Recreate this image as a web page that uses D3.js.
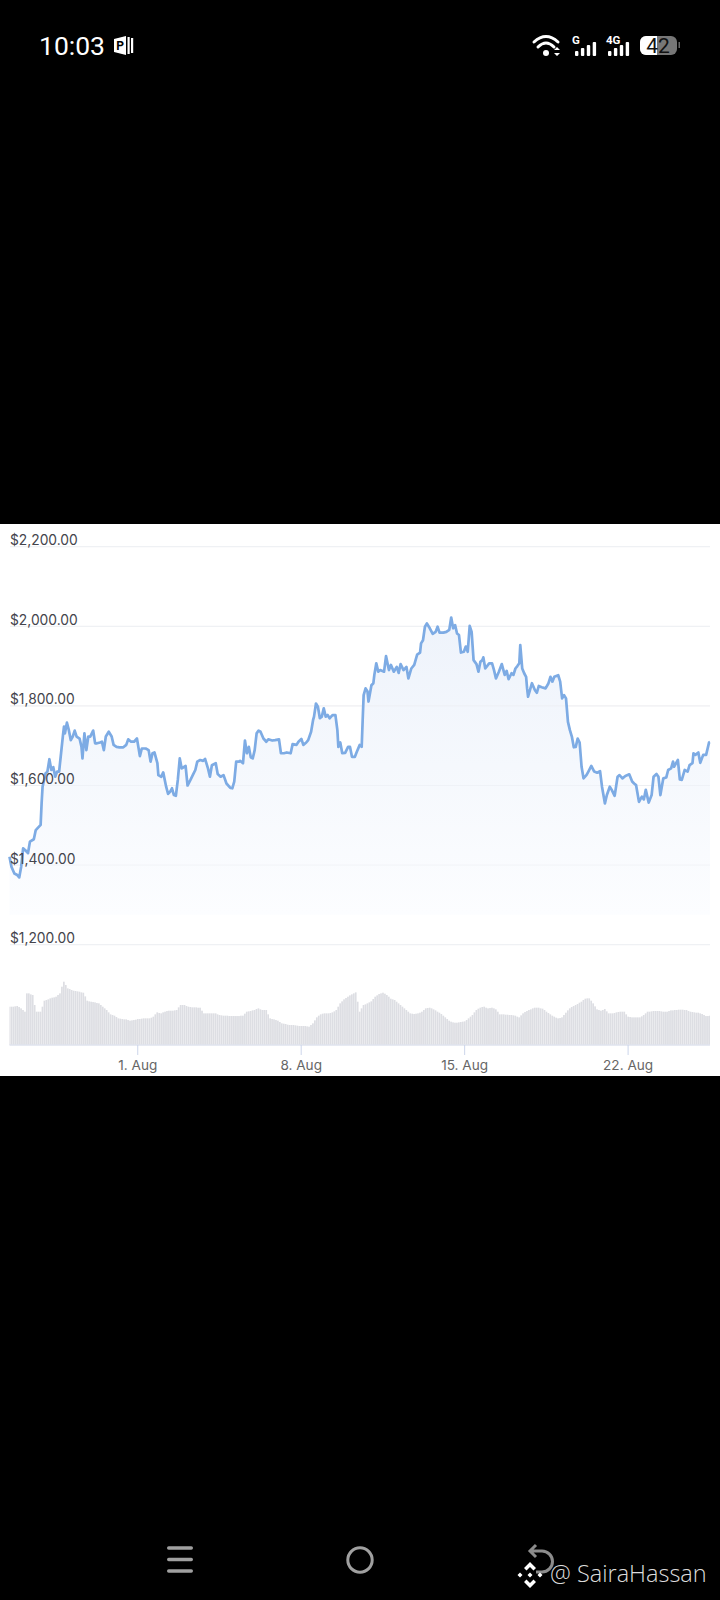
<!DOCTYPE html>
<html><head><meta charset="utf-8">
<script src="https://cdn.jsdelivr.net/npm/d3@7"></script>
<style>html,body{margin:0;padding:0;background:#000}svg{display:block}</style>
</head><body><svg id="c" width="720" height="1600"></svg>
<script>
// hours since first sample
const priceHours=[0,2,5,8,10,12,14,16,19,21,25,27,32,33,34,37,39,41,43,45,47,49,51,53,55,56,57,59,61,63,65,67,69,72,74,75,77,79,81,83,86,88,90,93,95,97,99,102,105,107,110,113,117,120,122,125,128,131,134,136,140,143,145,147,149,152,153,156,158,161,163,165,167,169,171,173,175,177,181,183,186,189,191,193,196,199,201,204,206,208,212,214,217,220,223,227,229,231,233,236,
237,240,242,244,246,248,250,252,254,256,258,261,264,266,270,273,277,279,282,285,289,291,295,297,300,302,305,307,310,312,313,315,317,319,321,323,325,327,329,332,335,337,338,340,342,345,348,350,352,355,357,360,362,363,364,366,368,369,372,374,375,377,379,381,385,387,390,392,395,398,400,402,405,408,410,413,416,419,422,423,425,427,429,432,435,438,440,442,446,449,452,454,456,458,460,462,464,467,469,471,473,475,477,480,482,484,
486,487,489,493,496,498,500,503,506,509,511,513,516,518,520,522,524,525,527,529,531,532,533,535,537,540,542,544,547,551,554,556,558,560,564,566,568,570,572,574,576,578,580,582,584,586,588,590,593,595,598,601,604,607,609,612,614,617,619,622,625,627,630,633,637,640,642,644,647,650,652,654,657,660,662,665,667,669,672,675,677,680,682,683,687,689,691,694,697,699,702,703,705,708,710,713,716,719,720];
const priceValues=[1421,1396,1379,1375,1369,1396,1442,1438,1430,1459,1465,1488,1501,1555,1597,1630,1635,1666,1639,1646,1622,1635,1635,1681,1727,1748,1731,1758,1739,1714,1723,1738,1723,1718,1697,1668,1731,1689,1723,1723,1738,1706,1706,1708,1710,1689,1723,1735,1723,1702,1697,1696,1696,1702,1716,1710,1710,1718,1674,1693,1693,1689,1660,1681,1683,1656,1626,1622,1633,1597,1579,1584,1593,1576,1574,1614,1668,1643,1649,1600,1614,1629,1639,1660,1664,1662,1667,1643,1622,1651,1656,1629,1622,1626,1605,1594,1593,1610,1660,1660,
1662,1656,1713,1681,1697,1671,1668,1689,1731,1738,1735,1718,1710,1716,1713,1714,1716,1681,1681,1683,1681,1704,1702,1710,1717,1702,1708,1714,1735,1764,1773,1806,1798,1769,1773,1794,1773,1777,1769,1777,1777,1739,1697,1708,1681,1682,1697,1697,1672,1672,1685,1702,1697,1764,1827,1844,1836,1811,1852,1857,1878,1907,1886,1890,1886,1925,1890,1903,1886,1898,1883,1905,1890,1898,1869,1894,1903,1929,1934,1957,1965,1999,2007,1995,1981,1986,1999,1984,1984,1986,1991,2022,1995,2003,1982,1978,1934,1936,1949,1936,2001,1986,1915,1905,1886,1911,
1915,1922,1894,1907,1907,1890,1869,1886,1905,1878,1888,1867,1882,1878,1894,1900,1907,1953,1894,1882,1873,1844,1823,1840,1857,1840,1833,1850,1847,1844,1857,1873,1861,1873,1877,1861,1819,1827,1819,1760,1739,1723,1696,1697,1718,1708,1647,1618,1626,1635,1649,1635,1632,1636,1597,1555,1576,1597,1589,1574,1622,1626,1618,1624,1628,1610,1605,1601,1559,1572,1565,1589,1557,1576,1622,1629,1622,1576,1618,1620,1639,1643,1660,1647,1664,1615,1614,1639,1635,1651,1656,1681,1677,1683,1657,1677,1677,1708,1709];
// volume, billions, one value every two hours
const volumeValues=[11.5,11.5,11.5,11.6,11.7,11.4,11,10.5,10,15.5,15.5,15.2,15,12,10,10,10,11.5,13.3,13.5,13.7,14,14.2,14.3,14.5,15,15.5,17.5,19,18,17,16.8,16.5,16.3,16.2,16.1,16,15.8,15.7,14.6,13.3,13.1,13,12.9,12.8,12.6,12.5,12,11.5,11,10.5,9.8,9.2,9,8.8,8.4,8,7.9,7.8,7.7,7.7,7.5,7.3,7.4,7.5,7.6,7.8,7.8,7.9,8,8,8,8,8.2,8.5,9.2,9.8,9.6,9.5,9.8,10,10.2,10.3,10.3,10.3,10.4,10.5,11.3,12,12,12,11.7,11.5,11.4,11.3,11.3,11.3,11.2,11.2,10.3,9.5,9.5,9.5,9.5,9.5,9.5,9.5,9.2,9,8.9,8.8,8.8,8.8,8.7,8.7,8.7,8.7,8.7,8.7,8.8,8.8,9.4,10,10.1,10.2,10.4,10.5,10.8,11,10.7,10.5,10.5,10.5,9.2,8,7.8,7.7,7.5,7.3,6.9,6.5,6.4,6.3,6.1,6,6,6,5.9,5.8,5.7,5.7,5.7,5.7,5.6,5.5,6,6.5,7.4,8.3,8.8,9.2,9.4,9.5,9.5,9.5,9.6,9.8,10.1,10.5,11.5,12.5,13.1,13.7,14.1,14.5,14.9,15.2,15.5,15.8,13,10,
11,12,12.2,12.5,12.8,13.1,13.8,14.5,14.9,15.3,15.5,15.7,15.4,15,14.5,13.9,13.7,13.5,13,12.5,12,11.5,11,10.5,10,9.5,9.4,9.3,9.4,9.5,9.7,10,10.5,11,11.1,11.2,11,10.7,10.4,10,9.7,9.3,8.8,8.3,7.8,7.3,7,6.8,6.7,6.7,6.8,6.9,7,7.1,7.5,8,8.5,9,9.8,10.5,10.9,11.2,11.4,11.5,11.2,11,11.1,11.2,11,10.7,10,9.2,9.2,9.2,9.1,9.1,9,9,8.9,8.8,8.5,8.3,8.9,9.5,9.9,10.2,10.5,10.7,11,11.2,11.2,11.2,11,10.9,10.5,10,9.6,9.2,8.8,8.5,8.2,8,8.1,8.3,9,9.7,10.4,11,11.4,11.7,12,12.3,12.7,13,13.5,13.9,14,14,13.3,12.5,11.6,10.7,10.5,10.3,10.5,10.8,10.1,9.5,9.5,9.5,9.6,9.8,9.9,10,10,10,9.2,8.5,8.4,8.3,8.3,8.3,8.3,8.3,8.6,9,9.5,10,10,10.1,10.2,10.2,10.2,10.2,10.1,10,10,10,10.2,10.4,10.4,10.5,10.5,10.6,10.6,10.6,10.5,10.5,10.2,10,9.9,9.8,9.7,9.7,9.5,9.3,9,8.7,8.7,8.8];
const priceTicks=[1200,1400,1600,1800,2000,2200];
const dateTicks=[new Date(Date.UTC(2022,7,1)),new Date(Date.UTC(2022,7,8)),new Date(Date.UTC(2022,7,15)),new Date(Date.UTC(2022,7,22))];
const startTime=Date.UTC(2022,6,26,12,42);
const HOUR=3600000;
const dateOf=h=>new Date(startTime+h*HOUR);

const svg=d3.select("#c");
const FONT="Inter, 'Liberation Sans', sans-serif";
svg.append("rect").attr("width",720).attr("height",1600).attr("fill","#000");
svg.append("rect").attr("x",0).attr("y",524).attr("width",720).attr("height",552).attr("fill","#fff");

const x=d3.scaleUtc().domain([dateOf(0),dateOf(720)]).range([9.5,710]);
const y=d3.scaleLinear().domain([1200,2200]).range([944.7,546.7]);
const vy=d3.scaleLinear().domain([0,19]).range([1045,981.7]);
const areaBase=1275;

const defs=svg.append("defs");
const g=defs.append("linearGradient").attr("id","fillG").attr("x1",0).attr("x2",0).attr("y1",0).attr("y2",1);
g.append("stop").attr("offset",0).attr("stop-color","#eef3fb");
g.append("stop").attr("offset",1).attr("stop-color","#fcfdff");
defs.append("clipPath").attr("id","plotClip").append("rect").attr("x",9.5).attr("y",524).attr("width",700.5).attr("height",552);
defs.append("filter").attr("id","soft").attr("x","-5%").attr("y","-5%").attr("width","110%").attr("height","110%")
 .append("feGaussianBlur").attr("stdDeviation",0.35);

// grid
svg.append("g").selectAll("line").data(priceTicks).join("line")
 .attr("x1",10).attr("x2",710).attr("y1",d=>y(d)).attr("y2",d=>y(d))
 .attr("stroke","#f2f3f5").attr("stroke-width",1);

const pts=priceHours.map((h,i)=>({t:dateOf(h),v:priceValues[i]}));
svg.append("path").datum(pts).attr("fill","url(#fillG)")
 .attr("d",d3.area().x(d=>x(d.t)).y0(y(areaBase)).y1(d=>y(d.v)));
// grid shows through the fill
svg.append("g").selectAll("line").data(priceTicks).join("line")
 .attr("x1",10).attr("x2",710).attr("y1",d=>y(d)).attr("y2",d=>y(d))
 .attr("stroke","#e6e8ee").attr("stroke-opacity",0.4).attr("stroke-width",1);
svg.append("path").datum(pts).attr("fill","none").attr("stroke","#7dabe4").attr("stroke-width",2.7)
 .attr("stroke-linejoin","round").attr("filter","url(#soft)")
 .attr("d",d3.line().x(d=>x(d.t)).y(d=>y(d.v)));

// y labels
svg.append("g").selectAll("text").data(priceTicks).join("text")
 .attr("x",10).attr("y",d=>y(d)-1.6).attr("fill","#44444c")
 .attr("font-family",FONT).attr("font-size",13.8)
 .text(d=>"$"+d3.format(",.2f")(d));

// volume
const step=x(dateOf(2))-x(dateOf(0));
svg.append("g").attr("clip-path","url(#plotClip)").selectAll("rect").data(volumeValues).join("rect")
 .attr("x",(d,i)=>x(dateOf(i*2))-step/2)
 .attr("width",step-0.25)
 .attr("y",d=>vy(d)).attr("height",d=>vy(0)-vy(d))
 .attr("fill","#dddee3");

// x axis
const ax=svg.append("g").attr("transform","translate(0,1045)")
 .call(d3.axisBottom(x).tickValues(dateTicks).tickSize(10).tickPadding(5).tickFormat(d3.utcFormat("%-d. %b")));
ax.select(".domain").attr("stroke","#dfe3ee").attr("stroke-width",1.5).attr("d","M9.5,0H710");
ax.selectAll(".tick line").attr("stroke","#ccd6eb");
ax.selectAll(".tick text").attr("fill","#666").attr("font-family",FONT).attr("font-size",13.6);

// status bar
svg.append("text").attr("x",39).attr("y",55).attr("fill","#fff").attr("font-family","Roboto").attr("font-size",26.5).text("10:03");
const P=svg.append("g").attr("fill","#fff");
P.append("path").attr("d","M114 39 L126 36 V55 L114 52 Z");
P.append("rect").attr("x",127.5).attr("y",37).attr("width",2.2).attr("height",17);
P.append("rect").attr("x",131).attr("y",38).attr("width",2.2).attr("height",15);
svg.append("text").attr("x",120).attr("y",50).attr("text-anchor","middle").attr("fill","#000").attr("font-family","Roboto").attr("font-weight",700).attr("font-size",12).text("P");
// wifi
const wifi=svg.append("g").attr("fill","none").attr("stroke","#fff").attr("stroke-width",3).attr("stroke-linecap","round");
wifi.append("path").attr("d","M534 42 Q546 31 558 42");
wifi.append("path").attr("d","M538 47 Q546 39 554 47");
svg.append("circle").attr("cx",546).attr("cy",53).attr("r",3).attr("fill","#fff");
svg.append("path").attr("d","M554 50 L557 47 L560 50 Z M554 53 L557 56 L560 53 Z").attr("fill","#fff");
// signal
const sig=(x0,hs)=>hs.forEach((h,i)=>svg.append("rect").attr("x",x0+i*5.9).attr("y",56-h).attr("width",3.4).attr("height",h).attr("rx",1).attr("fill","#fff"));
sig(575,[5,8,11,14]); sig(608,[5,8,11,14]);
svg.append("text").attr("x",572).attr("y",44).attr("fill","#fff").attr("font-family","Roboto").attr("font-weight",700).attr("font-size",11.5).text("G");
svg.append("text").attr("x",606).attr("y",44).attr("fill","#fff").attr("font-family","Roboto").attr("font-weight",700).attr("font-size",11.5).text("4G");
// battery
svg.append("rect").attr("x",640).attr("y",36).attr("width",37).attr("height",19).attr("rx",6).attr("fill","#777");
svg.append("path").attr("d","M646 36 H657 V55 H646 A6 6 0 0 1 640 49 V42 A6 6 0 0 1 646 36 Z").attr("fill","#fff");
svg.append("rect").attr("x",678.5).attr("y",42).attr("width",1.5).attr("height",6).attr("fill","#666");
svg.append("text").attr("x",658).attr("y",53).attr("text-anchor","middle").attr("fill","#111").attr("font-family","Roboto").attr("font-size",21).text("42");

// nav bar
[1548,1559.5,1571].forEach(yy=>svg.append("rect").attr("x",167).attr("y",yy-1.7).attr("width",26).attr("height",3.4).attr("rx",1.7).attr("fill","#a0a0a0"));
svg.append("circle").attr("cx",360).attr("cy",1560).attr("r",12.2).attr("fill","none").attr("stroke","#a0a0a0").attr("stroke-width",3);
svg.append("path").attr("d","M531 1551 H542 A9.5 9.5 0 0 1 542 1572 H536 M536 1545 L530 1551 L536 1557").attr("fill","none").attr("stroke","#8c8c8c").attr("stroke-width",3);
// watermark
const wm=svg.append("g").attr("fill","#fff").attr("transform","translate(530,1575)");
wm.append("path").attr("d","M0 -13 L6 -7 L3.5 -4.5 L0 -8 L-3.5 -4.5 L-6 -7 Z M0 13 L6 7 L3.5 4.5 L0 8 L-3.5 4.5 L-6 7 Z M-10 -2.5 L-7.5 0 L-10 2.5 L-12.5 0 Z M10 -2.5 L12.5 0 L10 2.5 L7.5 0 Z M0 -2.5 L2.5 0 L0 2.5 L-2.5 0 Z");
svg.append("text").attr("x",550).attr("y",1582).attr("fill","#dcdcdc").attr("font-family","Open Sans").attr("font-weight",300).attr("font-size",23.5).text("@ SairaHassan");
</script></body></html>
